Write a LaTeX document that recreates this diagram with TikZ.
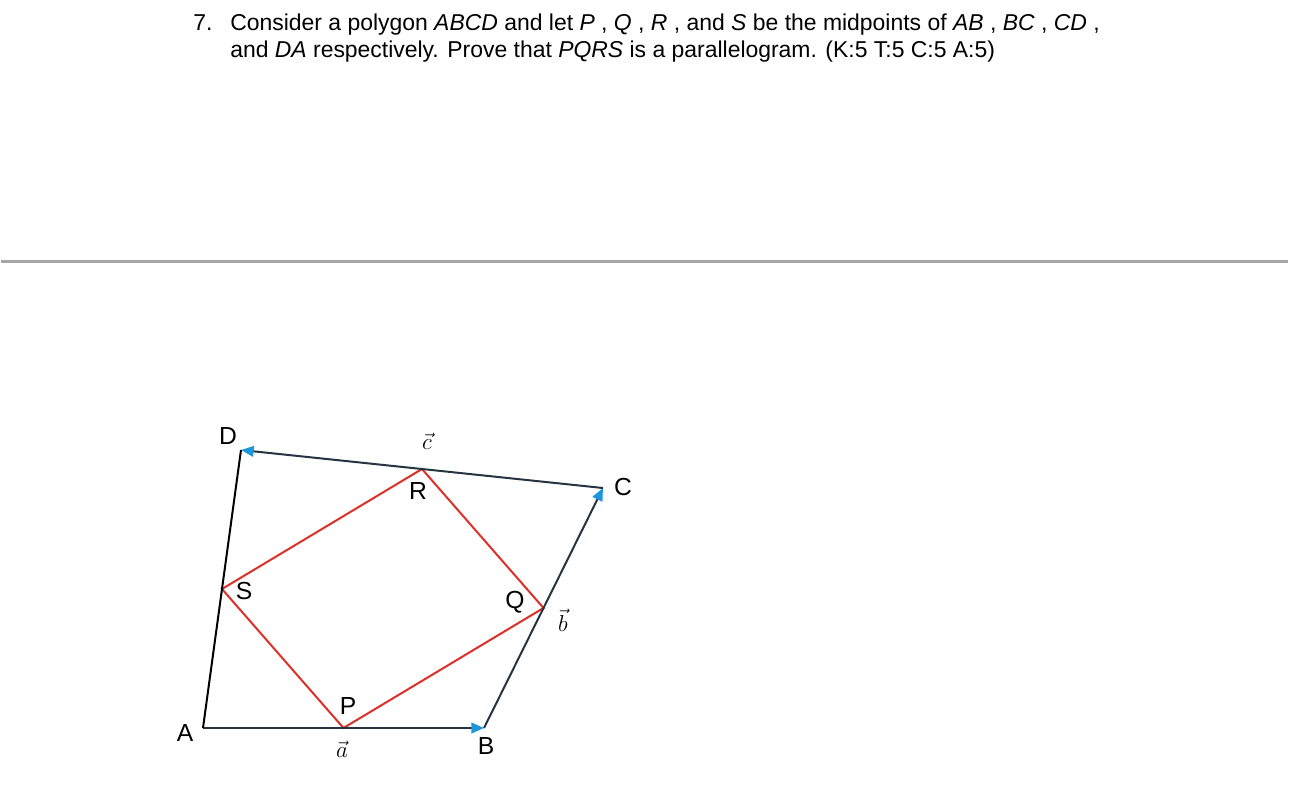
\documentclass[tikz,border=0pt]{standalone}
\usepackage{fontspec}
\setmainfont{Liberation Sans}
\usetikzlibrary{arrows.meta,calc}
\definecolor{edgenavy}{RGB}{38,52,66}
\definecolor{tipblue}{RGB}{30,150,220}
\definecolor{midred}{RGB}{220,48,40}
\definecolor{rulegrey}{RGB}{165,165,168}
\tikzset{
  qtextstyle/.style={anchor=base west,inner sep=0pt,font=\fontsize{17.2}{20.3}\selectfont},
  vecside/.style={color=edgenavy,line width=1.5pt,-{Triangle[length=9.5pt,width=8pt,color=tipblue]}},
  midline/.style={color=midred,line width=1.5pt,line join=miter},
  ptlabel/.style={font=\fontsize{18.5}{21}\selectfont,inner sep=0.75pt},
  veclabel/.style={font=\fontsize{18}{21}\selectfont,inner sep=0.75pt}
}
\begin{document}
\begin{tikzpicture}[x=0.75pt,y=0.75pt,yscale=-1,xscale=1]
	\useasboundingbox (0,0) rectangle (1290,794);
	
	% Question text
	\node (qnum) [qtextstyle] at (193,30) {7.};
	\node (qline1) [qtextstyle] at (230,30)
	  {Consider a polygon \textit{ABCD} and let \textit{P} , \textit{Q} , \textit{R} , and \textit{S} be the midpoints of \textit{AB} , \textit{BC} , \textit{CD} ,};
	\node (qline2) [qtextstyle] at (230,57)
	  {and \textit{DA} respectively. Prove that \textit{PQRS} is a parallelogram. (K:5 T:5 C:5 A:5)};
	
	% Separator rule
	\coordinate (ruleL) at (1,261.5);
	\coordinate (ruleR) at (1288,261.5);
	\draw [color=rulegrey,line width=2.4pt] (ruleL) -- (ruleR);
	
	% Corners
	\coordinate (A) at (203,728);
	\coordinate (B) at (484,728);
	\coordinate (C) at (603,488);
	\coordinate (D) at (241,450);
	% Midpoints
	\coordinate (P) at ($(A)!0.5!(B)$);
	\coordinate (Q) at ($(B)!0.5!(C)$);
	\coordinate (R) at ($(C)!0.5!(D)$);
	\coordinate (S) at ($(D)!0.5!(A)$);
	
	% Inner quadrilateral
	\draw [midline] (P) -- (Q) -- (R) -- (S) -- cycle;
	
	% Sides
	\draw [vecside] (A) -- (B);
	\draw [vecside] (B) -- (C);
	\draw [vecside] (C) -- (D);
	\draw [color=black,line width=1.5pt] (D) -- (A);
	
	% Point labels
	\node (labA) [ptlabel] at (185,733) {A};
	\node (labB) [ptlabel] at (486,746) {B};
	\node (labC) [ptlabel] at (623,487) {C};
	\node (labD) [ptlabel] at (228,436) {D};
	\node (labP) [ptlabel] at (348,706) {P};
	\node (labQ) [ptlabel] at (515,602) {Q};
	\node (labR) [ptlabel] at (418,491) {R};
	\node (labS) [ptlabel] at (244,591) {S};
	
	% Vector labels
	\node (veca) [veclabel] at (342,749) {$\vec{a}$};
	\node (vecb) [veclabel] at (563,620) {$\vec{b}$};
	\node (vecc) [veclabel] at (427,441) {$\vec{c}$};
	
\end{tikzpicture}
\end{document}
